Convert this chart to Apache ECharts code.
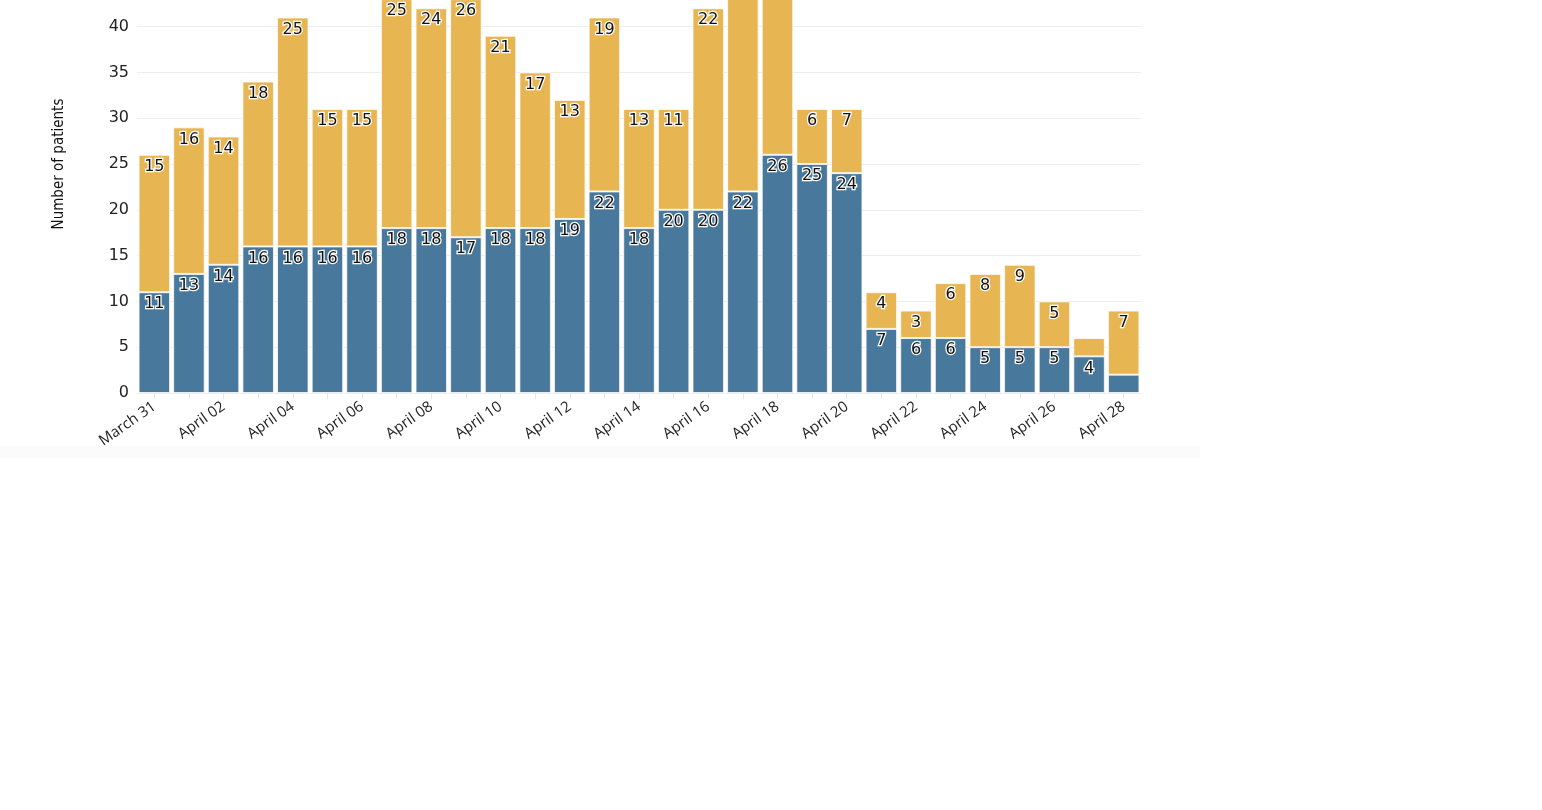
<!DOCTYPE html>
<html>
<head>
<meta charset="utf-8">
<script src="https://cdn.jsdelivr.net/npm/echarts@6/dist/echarts.min.js"></script>
<style>
  html, body { margin: 0; padding: 0; background: #fff; overflow: hidden; }
  /* 图表顶部超出视口，与参考图一致 */
  #chart { position: absolute; left: 0; top: -65px; width: 1542px; height: 875px; }
</style>
</head>
<body>
<div id="chart"></div>
<script>
// 日期（March 31 - April 28）
const categories = [
  "March 31", "April 01", "April 02", "April 03", "April 04", "April 05", "April 06",
  "April 07", "April 08", "April 09", "April 10", "April 11", "April 12", "April 13",
  "April 14", "April 15", "April 16", "April 17", "April 18", "April 19", "April 20",
  "April 21", "April 22", "April 23", "April 24", "April 25", "April 26", "April 27",
  "April 28"
];
// 下段（蓝色）
const blueValues = [
  11, 13, 14, 16, 16, 16, 16, 18, 18, 17, 18, 18, 19, 22, 18, 20, 20, 22, 26, 25, 24,
  7, 6, 6, 5, 5, 5, 4, 2
];
// 上段（黄色）
const yellowValues = [
  15, 16, 14, 18, 25, 15, 15, 25, 24, 26, 21, 17, 13, 19, 13, 11, 22, 25, 22, 6, 7,
  4, 3, 6, 8, 9, 5, 2, 7
];
const yTicks = { min: 0, max: 50, interval: 5 };

const chart = echarts.init(document.getElementById("chart"));

// 数据标签：黑字白边，太小的段不显示
const labelStyle = {
  show: true,
  position: "insideTop",
  distance: 4,
  color: "#111",
  fontFamily: "DejaVu Sans",
  fontSize: 16,
  textBorderColor: "#fff",
  textBorderWidth: 2.5,
  formatter: p => (p.value >= 3 ? String(p.value) : "")
};

chart.setOption({
  animation: false,
  backgroundColor: "#fff",
  graphic: [
    {
      type: "rect",
      silent: true,
      z: -10,
      shape: { x: 0, y: 511, width: 1200, height: 12 },
      style: { fill: "#fbfbfb" }
    }
  ],
  grid: {
    left: 137,
    right: 401,
    top: 0,
    bottom: 417,
    containLabel: false,
    outerBoundsMode: "none"
  },
  xAxis: {
    type: "category",
    data: categories,
    axisLine: { show: true, lineStyle: { color: "#eeeeee" } },
    axisTick: { show: true, alignWithLabel: true, interval: 0, length: 6, lineStyle: { color: "#e6e6e6" } },
    axisLabel: {
      interval: 1,
      rotate: 35,
      margin: 12,
      color: "#222",
      fontFamily: "Open Sans",
      fontSize: 15
    }
  },
  yAxis: {
    type: "value",
    min: yTicks.min,
    max: yTicks.max,
    interval: yTicks.interval,
    name: "Number of patients",
    nameLocation: "middle",
    nameGap: 70,
    nameTextStyle: {
      color: "#111",
      fontFamily: "DejaVu Sans Condensed, Liberation Sans, sans-serif",
      fontSize: 15
    },
    axisLine: { show: false },
    axisTick: { show: false },
    axisLabel: {
      color: "#222",
      fontFamily: "DejaVu Sans",
      fontSize: 16,
      margin: 8
    },
    splitLine: { lineStyle: { color: "#eeeeee" } }
  },
  series: [
    {
      name: "blue",
      type: "bar",
      stack: "total",
      data: blueValues,
      barCategoryGap: "9%",
      itemStyle: { color: "#48789c", borderColor: "rgba(255,255,255,0.75)", borderWidth: 1 },
      label: labelStyle
    },
    {
      name: "yellow",
      type: "bar",
      stack: "total",
      data: yellowValues,
      barCategoryGap: "9%",
      itemStyle: { color: "#e7b652", borderColor: "rgba(255,255,255,0.75)", borderWidth: 1 },
      label: labelStyle
    }
  ]
});
</script>
</body>
</html>
